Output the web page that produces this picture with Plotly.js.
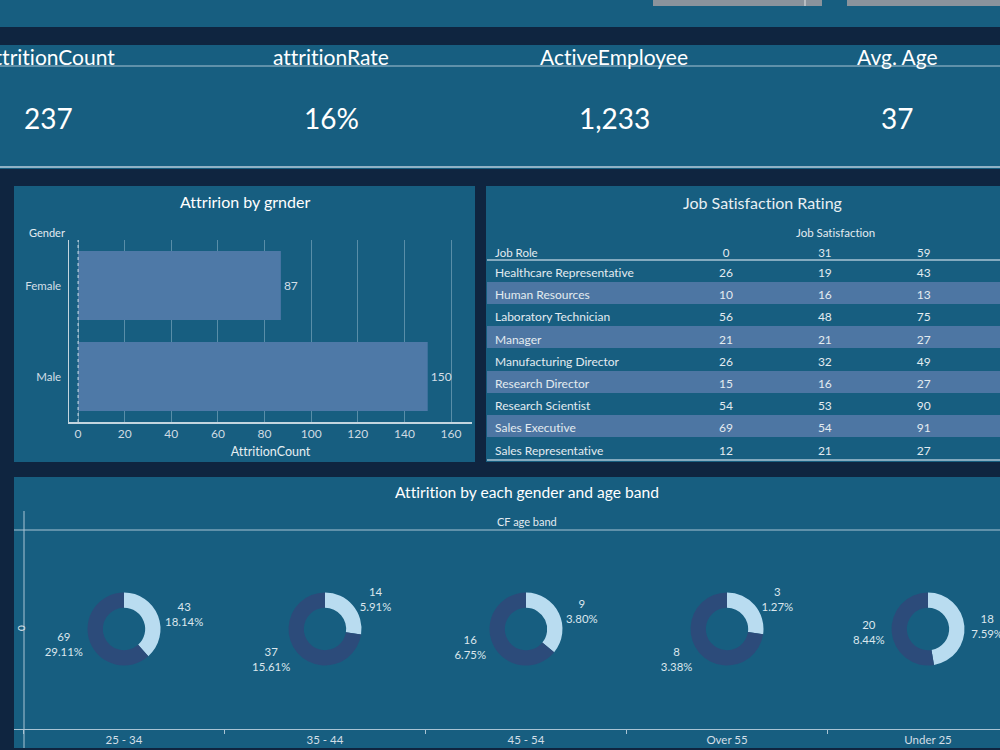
<!DOCTYPE html>
<html><head><meta charset="utf-8">
<script src="https://cdn.plot.ly/plotly-3.0.1.min.js"></script>
<style>html,body{margin:0;padding:0;background:#0f2540;overflow:hidden}#chart{width:1000px;height:750px}
svg text{font-variant-ligatures:none;font-feature-settings:"liga" 0,"clig" 0;}</style>
</head><body><div id="chart"></div>
<script>
// ---------- data ----------
const kpiLabels = ['AttritionCount', 'attritionRate', 'ActiveEmployee', 'Avg. Age'];
const kpiValues = ['237', '16%', '1,233', '37'];

const genders = ['Female', 'Male'];
const genderAttrition = [87, 150];

const jobRoles = ['Healthcare Representative', 'Human Resources', 'Laboratory Technician', 'Manager',
  'Manufacturing Director', 'Research Director', 'Research Scientist', 'Sales Executive', 'Sales Representative'];
const satLevels = ['0', '31', '59'];
const sat0 = [26, 10, 56, 21, 26, 15, 54, 69, 12];
const sat31 = [19, 16, 48, 21, 32, 16, 53, 54, 21];
const sat59 = [43, 13, 75, 27, 49, 27, 90, 91, 27];

const ageBands = ['25 - 34', '35 - 44', '45 - 54', 'Over 55', 'Under 25'];
const femaleByAge = [43, 14, 9, 3, 18];
const maleByAge = [69, 37, 16, 8, 20];

// ---------- style ----------
const FONT = 'Lato, "Noto Sans", sans-serif';
const DARK = '#0f2540';
const PANEL = '#175e80';
const BAND = '#4d76a3';
const LINE = '#a9c4d4';
const TXT = '#e3ebf0';
const W = 1000, H = 750;
const px = x => x / W;
const py = y => 1 - y / H;

const shapes = [];
const annotations = [];
function rect(x0, y0, x1, y1, color) {
  shapes.push({type: 'rect', xref: 'paper', yref: 'paper', x0: px(x0), x1: px(x1), y0: py(y1), y1: py(y0),
    fillcolor: color, line: {width: 0}, layer: 'below'});
}
function hline(x0, x1, y, color, w) {
  shapes.push({type: 'line', xref: 'paper', yref: 'paper', x0: px(x0), x1: px(x1), y0: py(y), y1: py(y),
    line: {color: color, width: w || 1}, layer: 'above'});
}
function vline(x, y0, y1, color, w) {
  shapes.push({type: 'line', xref: 'paper', yref: 'paper', x0: px(x), x1: px(x), y0: py(y0), y1: py(y1),
    line: {color: color, width: w || 1}, layer: 'above'});
}
function text(t, x, y, size, color, opts) {
  annotations.push(Object.assign({text: t, xref: 'paper', yref: 'paper', x: px(x), y: py(y),
    showarrow: false, xanchor: 'center', yanchor: 'middle',
    font: {family: FONT, size: size, color: color || TXT}}, opts || {}));
}

// panels
rect(0, 0, 1000, 27, PANEL);
rect(653, 0, 822, 6, '#8a939c');
rect(847, 0, 1000, 6, '#8a939c');
vline(805, 0, 6, '#e6e6e6');
rect(0, 45, 1000, 169, PANEL);
hline(0, 1000, 66, LINE, 1);
hline(0, 1000, 167, '#8fb1c5', 2);
rect(14, 186, 475, 462, PANEL);
rect(486, 186, 1000, 462, PANEL);
rect(14, 477, 1000, 748, PANEL);

// KPI cards
kpiLabels.forEach((l, i) => {
  text(l, 48 + i * 283, 57, 21, '#ffffff');
  text(kpiValues[i], 48 + i * 283, 118, 28, '#ffffff');
});

// bar panel labels
text('Attririon by grnder', 245, 202, 16, '#ffffff');
text('Gender', 27, 232, 11, TXT, {xanchor: 'left'});

// table panel labels
text('Job Satisfaction Rating', 762, 203, 16, '#e8eff3');
text('Job Satisfaction', 835, 233, 11.5, TXT);
hline(487, 1000, 260, LINE, 1.5);
hline(487, 1000, 460, LINE, 1.5);

// donut panel labels / frame
text('Attirition by each gender and age band', 527, 492, 15.6, '#ffffff');
text('CF age band', 527, 521, 11, TXT);
hline(14, 1000, 530, LINE, 1);
vline(24, 511, 748, LINE, 1);
text('0', 21, 628, 10, TXT, {textangle: -90});

// zero reference line of bar chart (dotted)
shapes.push({type: 'line', xref: 'x', yref: 'y domain', x0: 0, x1: 0, y0: 0, y1: 1,
  line: {color: '#d5e2ea', width: 1, dash: 'dot'}, layer: 'above'});

const data = [];

// bar chart
data.push({
  type: 'bar', orientation: 'h', x: genderAttrition, y: genders, xaxis: 'x', yaxis: 'y',
  marker: {color: '#4e79a7', line: {width: 0}}, width: 0.76,
  text: genderAttrition.map(String), textposition: 'outside', cliponaxis: false,
  textfont: {family: FONT, size: 12, color: '#d3dfe7'}, hoverinfo: 'x+y', showlegend: false
});

// table
const rowFill = jobRoles.map((_, i) => i % 2 === 1 ? BAND : PANEL);
data.push({
  type: 'table',
  domain: {x: [px(487), 1], y: [py(460), py(240)]},
  columnwidth: [190, 99, 99, 99, 27],
  header: {
    values: ['Job Role'].concat(satLevels).concat(['']),
    align: ['left', 'center', 'center', 'center', 'center'],
    fill: {color: PANEL}, line: {color: PANEL, width: 1},
    font: {family: FONT, size: 11.5, color: TXT}, height: 20
  },
  cells: {
    values: [jobRoles, sat0, sat31, sat59, jobRoles.map(() => '')],
    align: ['left', 'center', 'center', 'center', 'center'],
    fill: {color: [rowFill, rowFill, rowFill, rowFill, rowFill]},
    line: {color: [rowFill, rowFill, rowFill, rowFill, rowFill], width: 1},
    font: {family: FONT, size: 12, color: TXT}, height: 22.2
  }
});

// donuts
const total = genderAttrition.reduce((a, b) => a + b, 0);
ageBands.forEach((band, i) => {
  const cx = 124 + i * 201, cy = 629, r = 36.5;
  const vals = [femaleByAge[i], maleByAge[i]];
  data.push({
    type: 'pie', values: vals, labels: genders, name: band,
    domain: {x: [px(cx - r), px(cx + r)], y: [py(cy + r), py(cy - r)]},
    hole: 0.58, sort: false, direction: 'clockwise', rotation: 0,
    marker: {colors: ['#b9dcf0', '#2c4b7a'], line: {width: 0}},
    customdata: vals.map(v => (v / total * 100).toFixed(2) + '%'),
    texttemplate: '%{value}<br>%{customdata}', textposition: 'outside',
    outsidetextfont: {family: FONT, size: 11.4, color: '#dbe6ed'},
    automargin: false, showlegend: false, hoverinfo: 'label+value'
  });
});

// age band axis carrier
data.push({
  type: 'scatter', x: ageBands, y: ageBands.map(() => 0.5), xaxis: 'x2', yaxis: 'y2',
  mode: 'markers', marker: {opacity: 0}, hoverinfo: 'skip', showlegend: false
});

const layout = {
  width: W, height: H, margin: {l: 0, r: 0, t: 0, b: 0},
  paper_bgcolor: DARK, plot_bgcolor: 'rgba(0,0,0,0)',
  font: {family: FONT, color: TXT},
  showlegend: false,
  xaxis: {
    domain: [px(69), px(472)], range: [-3.9, 169], anchor: 'y', dtick: 20,
    showgrid: true, gridcolor: 'rgba(190,215,228,0.40)', gridwidth: 1,
    zeroline: false, showline: true, linecolor: '#c3d5df', linewidth: 1.5,
    ticks: '', tickfont: {family: FONT, size: 12, color: '#cfdbe3'},
    title: {text: 'AttritionCount', font: {family: FONT, size: 12.5, color: '#e6eef2'}, standoff: 7},
    fixedrange: true
  },
  yaxis: {
    domain: [py(422), py(240)], type: 'category', autorange: 'reversed', anchor: 'x',
    showgrid: false, zeroline: false, showline: true, linecolor: '#c3d5df', linewidth: 1.5,
    ticks: '', tickfont: {family: FONT, size: 11.5, color: '#d3dfe7'}, ticklabelstandoff: 4,
    fixedrange: true
  },
  xaxis2: {
    domain: [px(14), 1], range: [-0.547, 4.358], anchor: 'y2', type: 'category',
    showgrid: false, zeroline: false, showline: true, linecolor: LINE, linewidth: 1,
    ticks: 'outside', tickson: 'boundaries', ticklen: 4, tickcolor: LINE,
    tickfont: {family: FONT, size: 11.5, color: '#d3dfe7'}, fixedrange: true
  },
  yaxis2: {domain: [py(729), py(530)], range: [0, 1], anchor: 'x2', visible: false, fixedrange: true},
  shapes: shapes,
  annotations: annotations
};

Plotly.newPlot('chart', data, layout, {displayModeBar: false, staticPlot: true});
</script>
</body></html>
